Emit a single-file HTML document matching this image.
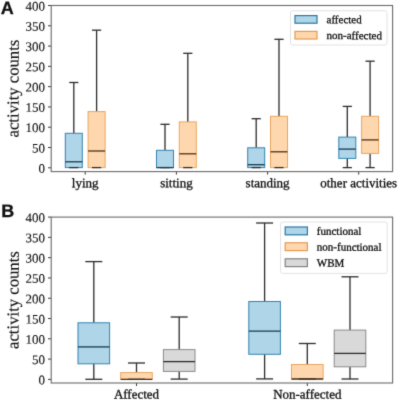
<!DOCTYPE html>
<html><head><meta charset="utf-8"><style>
html,body{margin:0;padding:0;background:#fff;}
body{width:398px;height:400px;overflow:hidden;font-family:"Liberation Serif",serif;}
svg{display:block;will-change:transform;}
</style></head><body>
<svg width="398" height="400" viewBox="0 0 398 400">
<defs><filter id="bl" x="0" y="0" width="100%" height="100%" color-interpolation-filters="sRGB"><feConvolveMatrix order="3" kernelMatrix="0.01440 0.09120 0.01440 0.09120 0.57760 0.09120 0.01440 0.09120 0.01440" edgeMode="duplicate"/></filter></defs>
<g filter="url(#bl)">
<rect width="398" height="400" fill="#ffffff"/>
<line x1="73.80" y1="82.50" x2="73.80" y2="133.30" stroke="#2c2c2c" stroke-width="1.3"/>
<line x1="73.80" y1="167.60" x2="73.80" y2="167.60" stroke="#2c2c2c" stroke-width="1.3"/>
<rect x="65.30" y="133.30" width="17.00" height="34.30" fill="#afd5e8" stroke="#3584b0" stroke-width="1.0"/>
<line x1="69.20" y1="82.50" x2="78.40" y2="82.50" stroke="#2c2c2c" stroke-width="1.3"/>
<line x1="69.20" y1="167.60" x2="78.40" y2="167.60" stroke="#2c2c2c" stroke-width="1.3"/>
<line x1="65.30" y1="161.80" x2="82.30" y2="161.80" stroke="#173a52" stroke-width="1.3"/>
<line x1="96.60" y1="30.20" x2="96.60" y2="111.60" stroke="#2c2c2c" stroke-width="1.3"/>
<line x1="96.60" y1="167.60" x2="96.60" y2="167.60" stroke="#2c2c2c" stroke-width="1.3"/>
<rect x="88.10" y="111.60" width="17.00" height="56.00" fill="#ffd7ae" stroke="#eaa55e" stroke-width="1.0"/>
<line x1="92.00" y1="30.20" x2="101.20" y2="30.20" stroke="#2c2c2c" stroke-width="1.3"/>
<line x1="92.00" y1="167.60" x2="101.20" y2="167.60" stroke="#2c2c2c" stroke-width="1.3"/>
<line x1="88.10" y1="151.00" x2="105.10" y2="151.00" stroke="#4a3018" stroke-width="1.3"/>
<line x1="165.00" y1="124.30" x2="165.00" y2="150.30" stroke="#2c2c2c" stroke-width="1.3"/>
<line x1="165.00" y1="167.60" x2="165.00" y2="167.60" stroke="#2c2c2c" stroke-width="1.3"/>
<rect x="156.50" y="150.30" width="17.00" height="17.30" fill="#afd5e8" stroke="#3584b0" stroke-width="1.0"/>
<line x1="160.40" y1="124.30" x2="169.60" y2="124.30" stroke="#2c2c2c" stroke-width="1.3"/>
<line x1="160.40" y1="167.60" x2="169.60" y2="167.60" stroke="#2c2c2c" stroke-width="1.3"/>
<line x1="156.50" y1="167.60" x2="173.50" y2="167.60" stroke="#173a52" stroke-width="1.3"/>
<line x1="187.80" y1="53.30" x2="187.80" y2="121.90" stroke="#2c2c2c" stroke-width="1.3"/>
<line x1="187.80" y1="167.60" x2="187.80" y2="167.60" stroke="#2c2c2c" stroke-width="1.3"/>
<rect x="179.30" y="121.90" width="17.00" height="45.70" fill="#ffd7ae" stroke="#eaa55e" stroke-width="1.0"/>
<line x1="183.20" y1="53.30" x2="192.40" y2="53.30" stroke="#2c2c2c" stroke-width="1.3"/>
<line x1="183.20" y1="167.60" x2="192.40" y2="167.60" stroke="#2c2c2c" stroke-width="1.3"/>
<line x1="179.30" y1="153.80" x2="196.30" y2="153.80" stroke="#4a3018" stroke-width="1.3"/>
<line x1="256.20" y1="118.70" x2="256.20" y2="147.80" stroke="#2c2c2c" stroke-width="1.3"/>
<line x1="256.20" y1="167.60" x2="256.20" y2="167.60" stroke="#2c2c2c" stroke-width="1.3"/>
<rect x="247.70" y="147.80" width="17.00" height="19.80" fill="#afd5e8" stroke="#3584b0" stroke-width="1.0"/>
<line x1="251.60" y1="118.70" x2="260.80" y2="118.70" stroke="#2c2c2c" stroke-width="1.3"/>
<line x1="251.60" y1="167.60" x2="260.80" y2="167.60" stroke="#2c2c2c" stroke-width="1.3"/>
<line x1="247.70" y1="164.70" x2="264.70" y2="164.70" stroke="#173a52" stroke-width="1.3"/>
<line x1="279.00" y1="39.30" x2="279.00" y2="116.30" stroke="#2c2c2c" stroke-width="1.3"/>
<line x1="279.00" y1="167.60" x2="279.00" y2="167.60" stroke="#2c2c2c" stroke-width="1.3"/>
<rect x="270.50" y="116.30" width="17.00" height="51.30" fill="#ffd7ae" stroke="#eaa55e" stroke-width="1.0"/>
<line x1="274.40" y1="39.30" x2="283.60" y2="39.30" stroke="#2c2c2c" stroke-width="1.3"/>
<line x1="274.40" y1="167.60" x2="283.60" y2="167.60" stroke="#2c2c2c" stroke-width="1.3"/>
<line x1="270.50" y1="151.80" x2="287.50" y2="151.80" stroke="#4a3018" stroke-width="1.3"/>
<line x1="347.30" y1="106.40" x2="347.30" y2="137.10" stroke="#2c2c2c" stroke-width="1.3"/>
<line x1="347.30" y1="158.40" x2="347.30" y2="167.60" stroke="#2c2c2c" stroke-width="1.3"/>
<rect x="338.80" y="137.10" width="17.00" height="21.30" fill="#afd5e8" stroke="#3584b0" stroke-width="1.0"/>
<line x1="342.70" y1="106.40" x2="351.90" y2="106.40" stroke="#2c2c2c" stroke-width="1.3"/>
<line x1="342.70" y1="167.60" x2="351.90" y2="167.60" stroke="#2c2c2c" stroke-width="1.3"/>
<line x1="338.80" y1="149.10" x2="355.80" y2="149.10" stroke="#173a52" stroke-width="1.3"/>
<line x1="370.10" y1="61.20" x2="370.10" y2="116.30" stroke="#2c2c2c" stroke-width="1.3"/>
<line x1="370.10" y1="153.40" x2="370.10" y2="167.60" stroke="#2c2c2c" stroke-width="1.3"/>
<rect x="361.60" y="116.30" width="17.00" height="37.10" fill="#ffd7ae" stroke="#eaa55e" stroke-width="1.0"/>
<line x1="365.50" y1="61.20" x2="374.70" y2="61.20" stroke="#2c2c2c" stroke-width="1.3"/>
<line x1="365.50" y1="167.60" x2="374.70" y2="167.60" stroke="#2c2c2c" stroke-width="1.3"/>
<line x1="361.60" y1="139.90" x2="378.60" y2="139.90" stroke="#4a3018" stroke-width="1.3"/>
<line x1="48.00" y1="167.80" x2="51.20" y2="167.80" stroke="#3a3a3a" stroke-width="1.0"/>
<g transform="translate(44.90,172.70) matrix(1,0.001,0,1,0,0)"><text font-family="Liberation Serif" font-size="13.0" font-weight="normal" text-anchor="end" fill="#111" stroke="#111" stroke-width="0.12">0</text></g>
<line x1="48.00" y1="147.51" x2="51.20" y2="147.51" stroke="#3a3a3a" stroke-width="1.0"/>
<g transform="translate(44.90,152.41) matrix(1,0.001,0,1,0,0)"><text font-family="Liberation Serif" font-size="13.0" font-weight="normal" text-anchor="end" fill="#111" stroke="#111" stroke-width="0.12">50</text></g>
<line x1="48.00" y1="127.23" x2="51.20" y2="127.23" stroke="#3a3a3a" stroke-width="1.0"/>
<g transform="translate(44.90,132.12) matrix(1,0.001,0,1,0,0)"><text font-family="Liberation Serif" font-size="13.0" font-weight="normal" text-anchor="end" fill="#111" stroke="#111" stroke-width="0.12">100</text></g>
<line x1="48.00" y1="106.94" x2="51.20" y2="106.94" stroke="#3a3a3a" stroke-width="1.0"/>
<g transform="translate(44.90,111.84) matrix(1,0.001,0,1,0,0)"><text font-family="Liberation Serif" font-size="13.0" font-weight="normal" text-anchor="end" fill="#111" stroke="#111" stroke-width="0.12">150</text></g>
<line x1="48.00" y1="86.65" x2="51.20" y2="86.65" stroke="#3a3a3a" stroke-width="1.0"/>
<g transform="translate(44.90,91.55) matrix(1,0.001,0,1,0,0)"><text font-family="Liberation Serif" font-size="13.0" font-weight="normal" text-anchor="end" fill="#111" stroke="#111" stroke-width="0.12">200</text></g>
<line x1="48.00" y1="66.36" x2="51.20" y2="66.36" stroke="#3a3a3a" stroke-width="1.0"/>
<g transform="translate(44.90,71.26) matrix(1,0.001,0,1,0,0)"><text font-family="Liberation Serif" font-size="13.0" font-weight="normal" text-anchor="end" fill="#111" stroke="#111" stroke-width="0.12">250</text></g>
<line x1="48.00" y1="46.08" x2="51.20" y2="46.08" stroke="#3a3a3a" stroke-width="1.0"/>
<g transform="translate(44.90,50.98) matrix(1,0.001,0,1,0,0)"><text font-family="Liberation Serif" font-size="13.0" font-weight="normal" text-anchor="end" fill="#111" stroke="#111" stroke-width="0.12">300</text></g>
<line x1="48.00" y1="25.79" x2="51.20" y2="25.79" stroke="#3a3a3a" stroke-width="1.0"/>
<g transform="translate(44.90,30.69) matrix(1,0.001,0,1,0,0)"><text font-family="Liberation Serif" font-size="13.0" font-weight="normal" text-anchor="end" fill="#111" stroke="#111" stroke-width="0.12">350</text></g>
<line x1="48.00" y1="5.50" x2="51.20" y2="5.50" stroke="#3a3a3a" stroke-width="1.0"/>
<g transform="translate(44.90,10.40) matrix(1,0.001,0,1,0,0)"><text font-family="Liberation Serif" font-size="13.0" font-weight="normal" text-anchor="end" fill="#111" stroke="#111" stroke-width="0.12">400</text></g>
<line x1="85.20" y1="171.60" x2="85.20" y2="174.60" stroke="#3a3a3a" stroke-width="1.0"/>
<g transform="translate(85.20,187.30) matrix(1,0.001,0,1,0,0)"><text font-family="Liberation Serif" font-size="13" font-weight="normal" text-anchor="middle" fill="#111" stroke="#111" stroke-width="0.3">lying</text></g>
<line x1="176.40" y1="171.60" x2="176.40" y2="174.60" stroke="#3a3a3a" stroke-width="1.0"/>
<g transform="translate(176.40,187.30) matrix(1,0.001,0,1,0,0)"><text font-family="Liberation Serif" font-size="13" font-weight="normal" text-anchor="middle" fill="#111" stroke="#111" stroke-width="0.3">sitting</text></g>
<line x1="267.60" y1="171.60" x2="267.60" y2="174.60" stroke="#3a3a3a" stroke-width="1.0"/>
<g transform="translate(267.60,187.30) matrix(1,0.001,0,1,0,0)"><text font-family="Liberation Serif" font-size="13" font-weight="normal" text-anchor="middle" fill="#111" stroke="#111" stroke-width="0.3">standing</text></g>
<line x1="358.70" y1="171.60" x2="358.70" y2="174.60" stroke="#3a3a3a" stroke-width="1.0"/>
<g transform="translate(358.70,187.30) matrix(1,0.001,0,1,0,0)"><text font-family="Liberation Serif" font-size="13" font-weight="normal" text-anchor="middle" fill="#111" stroke="#111" stroke-width="0.3">other activities</text></g>
<rect x="51.20" y="5.50" width="341.40" height="166.10" fill="none" stroke="#6a6a6a" stroke-width="1.1"/>
<g transform="translate(18.60,88.55) rotate(-90) matrix(1,0.001,0,1,0,0)"><text font-family="Liberation Serif" font-size="16.7" font-weight="normal" text-anchor="middle" fill="#111" stroke="#111" stroke-width="0.18">activity counts</text></g>
<rect x="290.5" y="10.8" width="96.5" height="34.2" rx="2" fill="#ffffff" fill-opacity="0.8" stroke="#e2e2e2" stroke-width="1"/>
<rect x="295.00" y="15.60" width="22.00" height="7.60" fill="#afd5e8" stroke="#2a78a4" stroke-width="1.2"/>
<rect x="295.00" y="31.40" width="22.00" height="7.60" fill="#ffd7ae" stroke="#e49a50" stroke-width="1.2"/>
<g transform="translate(326.50,23.30) matrix(1,0.001,0,1,0,0)"><text font-family="Liberation Serif" font-size="11" font-weight="normal" text-anchor="start" fill="#111" stroke="#111" stroke-width="0.3">affected</text></g>
<g transform="translate(326.50,39.10) matrix(1,0.001,0,1,0,0)"><text font-family="Liberation Serif" font-size="11" font-weight="normal" text-anchor="start" fill="#111" stroke="#111" stroke-width="0.3">non-affected</text></g>
<line x1="93.80" y1="261.60" x2="93.80" y2="322.80" stroke="#2c2c2c" stroke-width="1.3"/>
<line x1="93.80" y1="363.80" x2="93.80" y2="379.30" stroke="#2c2c2c" stroke-width="1.3"/>
<rect x="78.00" y="322.80" width="31.60" height="41.00" fill="#afd5e8" stroke="#3584b0" stroke-width="1.0"/>
<line x1="85.30" y1="261.60" x2="102.30" y2="261.60" stroke="#2c2c2c" stroke-width="1.3"/>
<line x1="85.30" y1="379.30" x2="102.30" y2="379.30" stroke="#2c2c2c" stroke-width="1.3"/>
<line x1="78.00" y1="346.90" x2="109.60" y2="346.90" stroke="#173a52" stroke-width="1.3"/>
<line x1="136.50" y1="363.00" x2="136.50" y2="372.60" stroke="#2c2c2c" stroke-width="1.3"/>
<line x1="136.50" y1="379.30" x2="136.50" y2="379.30" stroke="#2c2c2c" stroke-width="1.3"/>
<rect x="120.70" y="372.60" width="31.60" height="6.70" fill="#ffd7ae" stroke="#eaa55e" stroke-width="1.0"/>
<line x1="128.00" y1="363.00" x2="145.00" y2="363.00" stroke="#2c2c2c" stroke-width="1.3"/>
<line x1="128.00" y1="379.30" x2="145.00" y2="379.30" stroke="#2c2c2c" stroke-width="1.3"/>
<line x1="120.70" y1="379.30" x2="152.30" y2="379.30" stroke="#4a3018" stroke-width="1.3"/>
<line x1="179.20" y1="317.00" x2="179.20" y2="349.60" stroke="#2c2c2c" stroke-width="1.3"/>
<line x1="179.20" y1="371.40" x2="179.20" y2="379.10" stroke="#2c2c2c" stroke-width="1.3"/>
<rect x="163.40" y="349.60" width="31.60" height="21.80" fill="#d9d9d9" stroke="#8a8a8a" stroke-width="1.0"/>
<line x1="170.70" y1="317.00" x2="187.70" y2="317.00" stroke="#2c2c2c" stroke-width="1.3"/>
<line x1="170.70" y1="379.10" x2="187.70" y2="379.10" stroke="#2c2c2c" stroke-width="1.3"/>
<line x1="163.40" y1="361.60" x2="195.00" y2="361.60" stroke="#2a2a2a" stroke-width="1.3"/>
<line x1="264.60" y1="223.00" x2="264.60" y2="301.50" stroke="#2c2c2c" stroke-width="1.3"/>
<line x1="264.60" y1="354.30" x2="264.60" y2="378.90" stroke="#2c2c2c" stroke-width="1.3"/>
<rect x="248.80" y="301.50" width="31.60" height="52.80" fill="#afd5e8" stroke="#3584b0" stroke-width="1.0"/>
<line x1="256.10" y1="223.00" x2="273.10" y2="223.00" stroke="#2c2c2c" stroke-width="1.3"/>
<line x1="256.10" y1="378.90" x2="273.10" y2="378.90" stroke="#2c2c2c" stroke-width="1.3"/>
<line x1="248.80" y1="331.20" x2="280.40" y2="331.20" stroke="#173a52" stroke-width="1.3"/>
<line x1="307.30" y1="343.50" x2="307.30" y2="364.50" stroke="#2c2c2c" stroke-width="1.3"/>
<line x1="307.30" y1="379.00" x2="307.30" y2="379.00" stroke="#2c2c2c" stroke-width="1.3"/>
<rect x="291.50" y="364.50" width="31.60" height="14.50" fill="#ffd7ae" stroke="#eaa55e" stroke-width="1.0"/>
<line x1="298.80" y1="343.50" x2="315.80" y2="343.50" stroke="#2c2c2c" stroke-width="1.3"/>
<line x1="298.80" y1="379.00" x2="315.80" y2="379.00" stroke="#2c2c2c" stroke-width="1.3"/>
<line x1="291.50" y1="379.00" x2="323.10" y2="379.00" stroke="#4a3018" stroke-width="1.3"/>
<line x1="350.00" y1="276.80" x2="350.00" y2="330.10" stroke="#2c2c2c" stroke-width="1.3"/>
<line x1="350.00" y1="366.80" x2="350.00" y2="379.00" stroke="#2c2c2c" stroke-width="1.3"/>
<rect x="334.20" y="330.10" width="31.60" height="36.70" fill="#d9d9d9" stroke="#8a8a8a" stroke-width="1.0"/>
<line x1="341.50" y1="276.80" x2="358.50" y2="276.80" stroke="#2c2c2c" stroke-width="1.3"/>
<line x1="341.50" y1="379.00" x2="358.50" y2="379.00" stroke="#2c2c2c" stroke-width="1.3"/>
<line x1="334.20" y1="353.40" x2="365.80" y2="353.40" stroke="#2a2a2a" stroke-width="1.3"/>
<line x1="48.00" y1="379.40" x2="51.20" y2="379.40" stroke="#3a3a3a" stroke-width="1.0"/>
<g transform="translate(44.90,384.30) matrix(1,0.001,0,1,0,0)"><text font-family="Liberation Serif" font-size="13.0" font-weight="normal" text-anchor="end" fill="#111" stroke="#111" stroke-width="0.12">0</text></g>
<line x1="48.00" y1="359.11" x2="51.20" y2="359.11" stroke="#3a3a3a" stroke-width="1.0"/>
<g transform="translate(44.90,364.01) matrix(1,0.001,0,1,0,0)"><text font-family="Liberation Serif" font-size="13.0" font-weight="normal" text-anchor="end" fill="#111" stroke="#111" stroke-width="0.12">50</text></g>
<line x1="48.00" y1="338.82" x2="51.20" y2="338.82" stroke="#3a3a3a" stroke-width="1.0"/>
<g transform="translate(44.90,343.72) matrix(1,0.001,0,1,0,0)"><text font-family="Liberation Serif" font-size="13.0" font-weight="normal" text-anchor="end" fill="#111" stroke="#111" stroke-width="0.12">100</text></g>
<line x1="48.00" y1="318.54" x2="51.20" y2="318.54" stroke="#3a3a3a" stroke-width="1.0"/>
<g transform="translate(44.90,323.44) matrix(1,0.001,0,1,0,0)"><text font-family="Liberation Serif" font-size="13.0" font-weight="normal" text-anchor="end" fill="#111" stroke="#111" stroke-width="0.12">150</text></g>
<line x1="48.00" y1="298.25" x2="51.20" y2="298.25" stroke="#3a3a3a" stroke-width="1.0"/>
<g transform="translate(44.90,303.15) matrix(1,0.001,0,1,0,0)"><text font-family="Liberation Serif" font-size="13.0" font-weight="normal" text-anchor="end" fill="#111" stroke="#111" stroke-width="0.12">200</text></g>
<line x1="48.00" y1="277.96" x2="51.20" y2="277.96" stroke="#3a3a3a" stroke-width="1.0"/>
<g transform="translate(44.90,282.86) matrix(1,0.001,0,1,0,0)"><text font-family="Liberation Serif" font-size="13.0" font-weight="normal" text-anchor="end" fill="#111" stroke="#111" stroke-width="0.12">250</text></g>
<line x1="48.00" y1="257.68" x2="51.20" y2="257.68" stroke="#3a3a3a" stroke-width="1.0"/>
<g transform="translate(44.90,262.57) matrix(1,0.001,0,1,0,0)"><text font-family="Liberation Serif" font-size="13.0" font-weight="normal" text-anchor="end" fill="#111" stroke="#111" stroke-width="0.12">300</text></g>
<line x1="48.00" y1="237.39" x2="51.20" y2="237.39" stroke="#3a3a3a" stroke-width="1.0"/>
<g transform="translate(44.90,242.29) matrix(1,0.001,0,1,0,0)"><text font-family="Liberation Serif" font-size="13.0" font-weight="normal" text-anchor="end" fill="#111" stroke="#111" stroke-width="0.12">350</text></g>
<line x1="48.00" y1="217.10" x2="51.20" y2="217.10" stroke="#3a3a3a" stroke-width="1.0"/>
<g transform="translate(44.90,222.00) matrix(1,0.001,0,1,0,0)"><text font-family="Liberation Serif" font-size="13.0" font-weight="normal" text-anchor="end" fill="#111" stroke="#111" stroke-width="0.12">400</text></g>
<line x1="136.50" y1="383.00" x2="136.50" y2="386.00" stroke="#3a3a3a" stroke-width="1.0"/>
<g transform="translate(136.50,398.60) matrix(1,0.001,0,1,0,0)"><text font-family="Liberation Serif" font-size="13" font-weight="normal" text-anchor="middle" fill="#111" stroke="#111" stroke-width="0.3">Affected</text></g>
<line x1="307.30" y1="383.00" x2="307.30" y2="386.00" stroke="#3a3a3a" stroke-width="1.0"/>
<g transform="translate(307.30,398.60) matrix(1,0.001,0,1,0,0)"><text font-family="Liberation Serif" font-size="13" font-weight="normal" text-anchor="middle" fill="#111" stroke="#111" stroke-width="0.3">Non-affected</text></g>
<rect x="51.20" y="217.10" width="341.40" height="165.90" fill="none" stroke="#6a6a6a" stroke-width="1.1"/>
<g transform="translate(18.60,300.05) rotate(-90) matrix(1,0.001,0,1,0,0)"><text font-family="Liberation Serif" font-size="16.7" font-weight="normal" text-anchor="middle" fill="#111" stroke="#111" stroke-width="0.18">activity counts</text></g>
<rect x="280.6" y="222.0" width="106.6" height="51.4" rx="2" fill="#ffffff" fill-opacity="0.8" stroke="#e2e2e2" stroke-width="1"/>
<rect x="285.20" y="227.00" width="22.20" height="7.80" fill="#afd5e8" stroke="#2a78a4" stroke-width="1.2"/>
<rect x="285.20" y="242.80" width="22.20" height="7.80" fill="#ffd7ae" stroke="#e49a50" stroke-width="1.2"/>
<rect x="285.20" y="258.80" width="22.20" height="7.80" fill="#d9d9d9" stroke="#828282" stroke-width="1.2"/>
<g transform="translate(316.80,234.80) matrix(1,0.001,0,1,0,0)"><text font-family="Liberation Serif" font-size="11" font-weight="normal" text-anchor="start" fill="#111" stroke="#111" stroke-width="0.3">functional</text></g>
<g transform="translate(316.80,250.60) matrix(1,0.001,0,1,0,0)"><text font-family="Liberation Serif" font-size="11" font-weight="normal" text-anchor="start" fill="#111" stroke="#111" stroke-width="0.3">non-functional</text></g>
<g transform="translate(316.80,266.60) matrix(1,0.001,0,1,0,0)"><text font-family="Liberation Serif" font-size="11" font-weight="normal" text-anchor="start" fill="#111" stroke="#111" stroke-width="0.3">WBM</text></g>
<g transform="translate(0.70,13.90) matrix(1,0.001,0,1,0,0)"><text font-family="Liberation Sans" font-size="18" font-weight="bold" text-anchor="start" fill="#111" stroke="#111" stroke-width="0.3">A</text></g>
<g transform="translate(1.20,216.90) matrix(1,0.001,0,1,0,0)"><text font-family="Liberation Sans" font-size="18" font-weight="bold" text-anchor="start" fill="#111" stroke="#111" stroke-width="0.3">B</text></g>
</g>
</svg>
</body></html>
